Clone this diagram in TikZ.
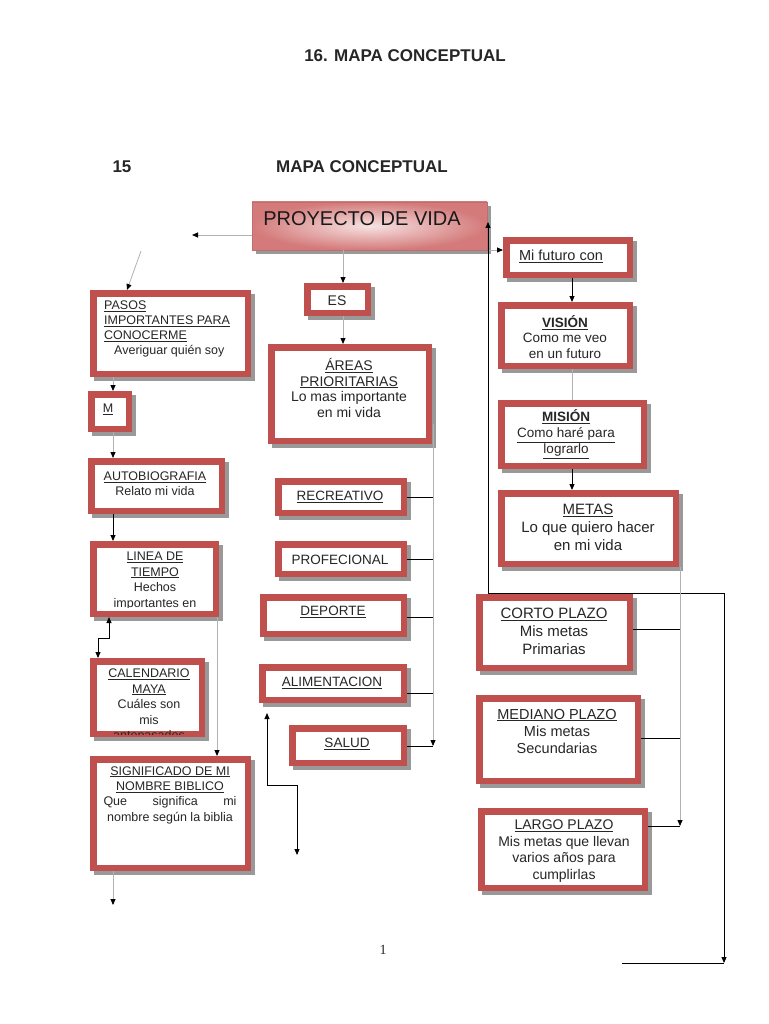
\documentclass[tikz,border=0pt]{standalone}
\usepackage{fontspec}
\setmainfont{Liberation Sans}
\newfontfamily\serifpg{Liberation Serif}
\usetikzlibrary{arrows.meta,calc}
\definecolor{redc}{RGB}{192,80,77}
\definecolor{proyout}{RGB}{212,122,122}
\definecolor{proyin}{RGB}{247,226,226}
\newcommand\fsz[2]{\fontsize{#1}{#2}\selectfont}
\newcommand\uln[1]{\underline{#1}}
\tikzset{
  rbox/.style={rectangle, draw=redc, line width=6.5pt, fill=white, inner sep=0pt, outer sep=3.25pt},
  shd/.style={fill=black!40},
  txt/.style={inner sep=0pt, align=center, text=black!85},
  gl/.style={draw=black!30, line width=0.8pt},
  bl/.style={draw=black, line width=0.9pt},
  tipb/.style={-{Triangle[length=6pt,width=5pt,color=black]}},
  tipbb/.style={{Triangle[length=6pt,width=5pt,color=black]}-{Triangle[length=6pt,width=5pt,color=black]}},
}
\newcommand\rbx[5]{%
  \fill[shd] (#2+4,#3+4) rectangle (#4+4,#5+4);
  \node[rbox, anchor=north west, minimum width={#4-#2-6.5}, minimum height={#5-#3-6.5}] (#1) at (#2,#3) {};
}
\begin{document}
\begin{tikzpicture}[x=1pt,y=-1pt]
\useasboundingbox (0,0) rectangle (768,1024);
\fill[white] (0,0) rectangle (768,1024);

% titles
\node[txt, font=\bfseries\fsz{17}{20}] (t16) at (405,56) {16. MAPA CONCEPTUAL};
\node[txt, font=\bfseries\fsz{17}{20}] (t15) at (122,167) {15};
\node[txt, font=\bfseries\fsz{17}{20}] (tmapa) at (362,167) {MAPA CONCEPTUAL};
\node[txt, font=\serifpg\fsz{14}{16}] (tpage) at (383,950) {1};

% main box
\fill[shd] (256,206) rectangle (491,254);
\node[rectangle, draw=proyout!90!black, line width=0.6pt, inner color=proyin, outer color=proyout,
      anchor=north west, minimum width=235, minimum height=48, inner sep=0pt, outer sep=0pt] (proy) at (252,202) {};
\node[txt, font=\fsz{20}{22}, text=black!90] (tproy) at (362,219) {PROYECTO DE VIDA};

% left column
\rbx{pasos}{90}{290}{251}{377}
\rbx{m}{88}{391}{132}{432}
\rbx{auto}{88}{458}{225}{514}
\rbx{linea}{90}{541}{219}{617}
\rbx{cal}{90}{658}{205}{737}
\rbx{sig}{90}{756}{251}{871}
% middle
\rbx{es}{304}{283}{371}{316}
\rbx{areas}{268}{344}{432}{444}
\rbx{rec}{275}{478}{407}{516}
\rbx{prof}{275}{541}{407}{577}
\rbx{dep}{260}{594}{407}{637}
\rbx{alim}{259}{664}{407}{703}
\rbx{salud}{289}{725}{407}{766}
% right
\rbx{fut}{503}{237}{633}{278}
\rbx{vis}{498}{302}{633}{369}
\rbx{mis}{498}{400}{647}{469}
\rbx{metas}{498}{490}{679}{567}
\rbx{corto}{476}{594}{633}{671}
\rbx{med}{476}{695}{641}{784}
\rbx{largo}{478}{808}{648}{891}

% texts left
\node[txt, align=left, anchor=west, font=\fsz{12.5}{15}] (tpasos) at (104,329)
  {\uln{PASOS}\\\uln{IMPORTANTES PARA}\\\uln{CONOCERME}\\\hspace*{10pt}Averiguar quién soy};
\node[txt, font=\fsz{12.5}{15}] (tm) at (108,409) {\uln{M}};
\node[txt, font=\fsz{12.5}{15}] (tauto) at (155,484) {\uln{AUTOBIOGRAFIA}\\Relato mi vida};
\begin{scope}
  \clip (97,548) rectangle (212,607);
  \node[txt, font=\fsz{12.5}{15.7}] (tlinea) at (155,581) {\uln{LINEA DE}\\\uln{TIEMPO}\\Hechos\\importantes en};
\end{scope}
\begin{scope}
  \clip (97,665) rectangle (198,734);
  \node[txt, font=\fsz{12.5}{15.5}] (tcal) at (149,705.5) {\uln{CALENDARIO}\\\uln{MAYA}\\Cuáles son\\mis\\antepasados};
\end{scope}
\node[txt, font=\fsz{12.5}{15.3}] (tsig) at (170,795)
  {\uln{SIGNIFICADO DE MI}\\\uln{NOMBRE BIBLICO}\\\hbox to 133pt{Que\hfill significa\hfill mi}\\nombre según la biblia};

% texts middle
\begin{scope}
  \clip (311,289) rectangle (364,305);
  \node[txt, font=\fsz{14}{16}] (tes) at (337,301) {ES};
\end{scope}
\node[txt, font=\fsz{14}{15.7}] (tareas) at (349,388) {\uln{ÁREAS}\\\uln{PRIORITARIAS}\\Lo mas importante\\en mi vida};
\node[txt, font=\fsz{13.5}{16}] (trec) at (340,497) {\uln{RECREATIVO}};
\node[txt, font=\fsz{13.5}{16}] (tprof) at (340,560) {PROFECIONAL};
\node[txt, font=\fsz{13.5}{16}] (tdep) at (333,612) {\uln{DEPORTE}};
\node[txt, font=\fsz{13.5}{16}] (talim) at (332,683) {\uln{ALIMENTACION}};
\node[txt, font=\fsz{13.5}{16}] (tsalud) at (347,744) {\uln{SALUD}};

% texts right
\node[txt, font=\fsz{14.5}{17}] (tfut) at (561,256) {\uln{Mi futuro con}};
\node[txt, font=\fsz{13.5}{15.5}] (tvis) at (565,337) {\textbf{\uln{VISIÓN}}\\Como me veo\\en un futuro};
\node[txt, font=\fsz{13.5}{16}] (tmis) at (566,434) {\textbf{\uln{MISIÓN}}\\\uln{Como haré para}\\\uln{lograrlo}};
\node[txt, font=\fsz{15}{18}] (tmetas) at (588,527) {\uln{METAS}\\Lo que quiero hacer\\en mi vida};
\node[txt, font=\fsz{15}{18}] (tcorto) at (554,631) {\uln{CORTO PLAZO}\\Mis metas\\Primarias};
\node[txt, font=\fsz{14.5}{17}] (tmed) at (557,731) {\uln{MEDIANO PLAZO}\\Mis metas\\Secundarias};
\begin{scope}
  \clip (485,815) rectangle (641,881);
  \node[txt, font=\fsz{14}{16.5}] (tlargo) at (564,851) {\uln{LARGO PLAZO}\\Mis metas que llevan\\varios años para\\cumplirlas};
\end{scope}

% free coordinates
\coordinate (c1) at (192,235);
\coordinate (c2) at (141,251);
\coordinate (c3) at (113,905);
\coordinate (c4) at (297,855);
\coordinate (c5) at (267,713);
\coordinate (c7) at (680,826);
\coordinate (c8) at (433,746);
\coordinate (c9) at (724,963);
\coordinate (c10) at (622,963);
\coordinate (jmid) at (488,250);
\coordinate (jtop) at (488,222);
\coordinate (jc) at (488,593);

% connectors left
\draw[gl, tipb] (proy.west |- c1) -- (c1);
\draw[gl, tipb] (c2) -- (pasos.north -| 127,0);
\draw[gl, tipb] (pasos.south -| 113,0) -- (m.north -| 113,0);
\draw[gl, tipb] (m.south -| 113,0) -- (auto.north -| 113,0);
\draw[bl, tipb] (auto.south -| 113,0) -- (linea.north -| 113,0);
\draw[bl, tipbb] (linea.south -| 109,0) -- ++(0,21) -| (cal.north -| 98,0);
\draw[gl, tipb] (linea.south -| 217,0) -- (sig.north -| 217,0);
\draw[gl, tipb] (sig.south -| 113,0) -- (c3);

% connectors middle
\draw[gl, tipb] (proy.south -| 343,0) -- (es.north -| 343,0);
\draw[gl, tipb] (es.south -| 343,0) -- (areas.north -| 343,0);
\draw[gl, tipb] ($(areas.south east)+(1,-20)$) -- (c8);
\draw[bl] (rec.east) -- (rec.east -| c8);
\draw[bl] (prof.east) -- (prof.east -| c8);
\draw[bl] (dep.east |- 0,617) -- (c8 |- 0,617);
\draw[bl] (alim.east |- 0,693) -- (c8 |- 0,693);
\draw[bl] (salud.east |- c8) -- (c8);
\draw[bl, tipbb] (c5) -- (c5 |- 0,785) -| (c4);

% connectors right
\draw[gl, tipb] (jmid) -- (fut.west |- jmid);
\draw[bl, tipb] (jc) -- (jtop);
\draw[bl, tipb] (jc) -| (c9);
\draw[bl] (c10) -- (c9);
\draw[bl, tipb] (fut.south -| 572,0) -- (vis.north -| 572,0);
\draw[gl] (vis.south -| 572,0) -- (mis.north -| 572,0);
\draw[bl, tipb] (mis.south -| 572,0) -- (metas.north -| 572,0);
\draw[gl, tipb] (metas.south -| c7) -- (c7);
\draw[bl] (corto.east |- 0,629) -- (c7 |- 0,629);
\draw[bl] (med.east |- 0,738) -- (c7 |- 0,738);
\draw[bl] (largo.east |- c7) -- (c7);
\end{tikzpicture}
\end{document}
